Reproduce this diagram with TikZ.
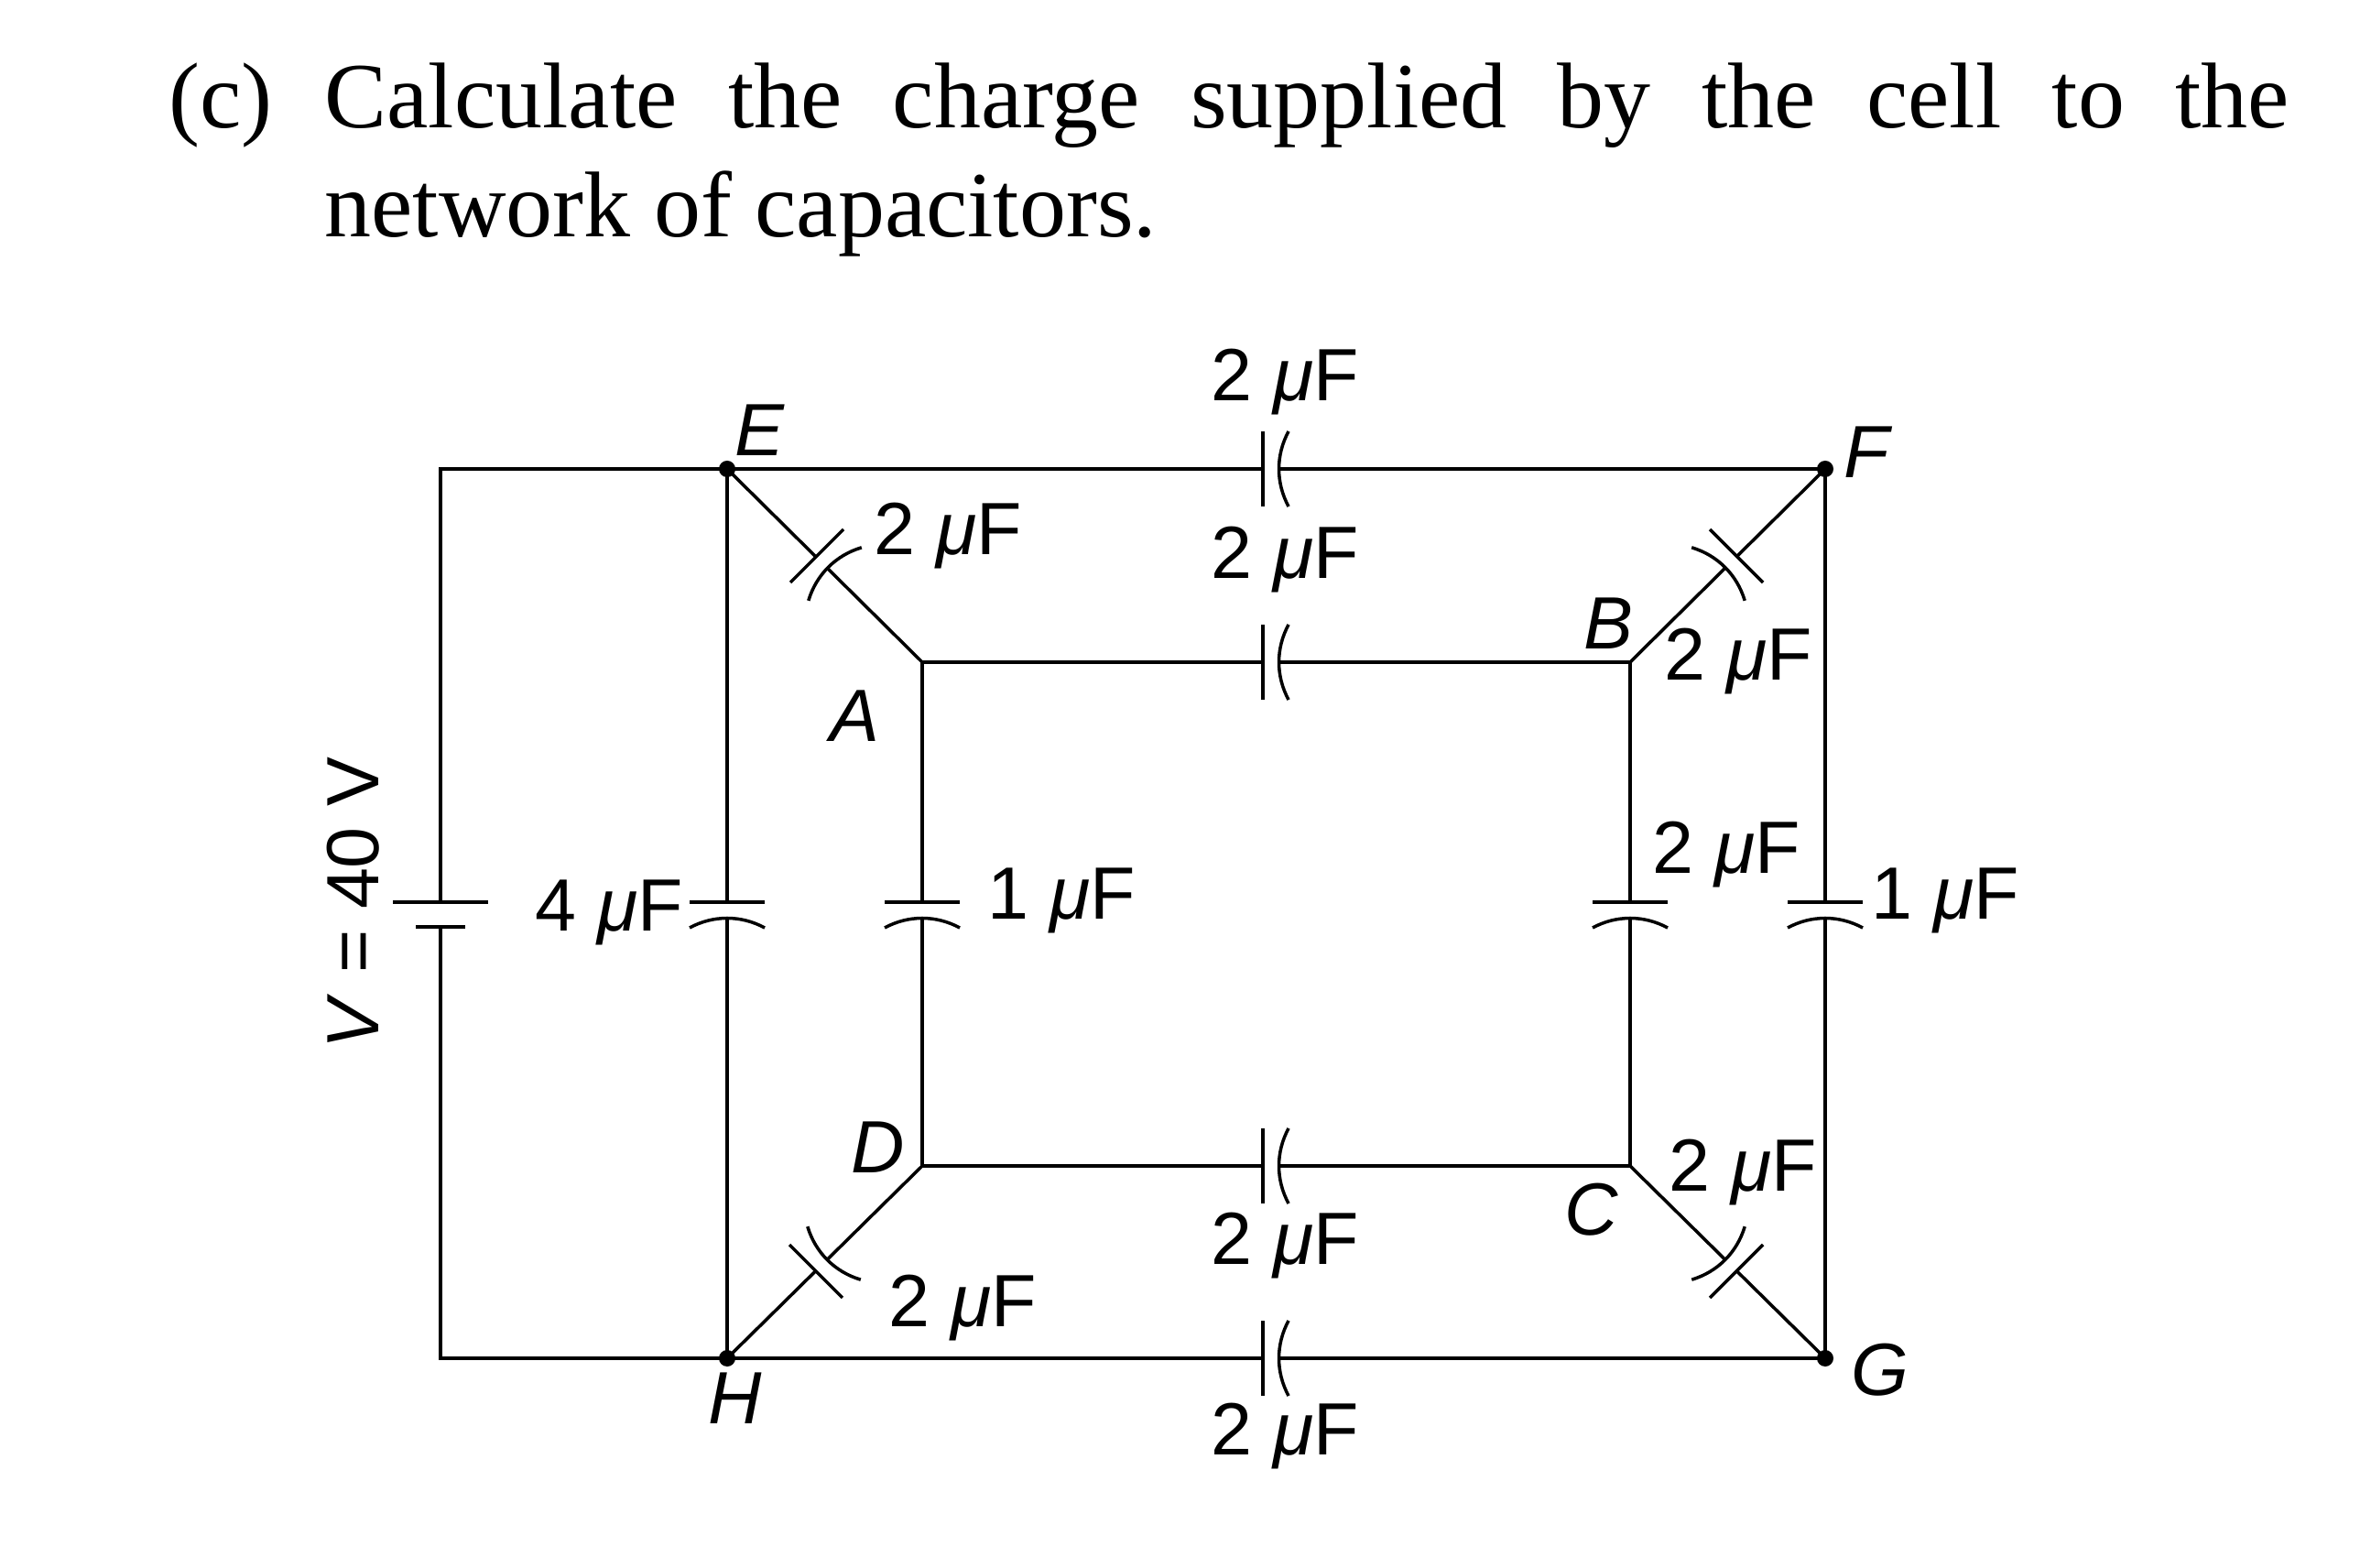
\documentclass[tikz,border=0pt]{standalone}
\usepackage{fontspec}
\setmainfont{Liberation Serif}
\newfontfamily\diagramfont{Liberation Sans}
\newcommand{\microfarad}{\textit{μ}F}
\usetikzlibrary{positioning}

\begin{document}
\begin{tikzpicture}[line width=1pt,
	junction/.style={circle,fill=black,inner sep=0pt,minimum size=0.18cm},
	question text/.style={anchor=base west,inner sep=0pt,font=\fontsize{29}{34}\selectfont},
	value label/.style={font=\diagramfont\fontsize{23}{26}\selectfont,anchor=base west,inner sep=0pt},
	point label/.style={font=\diagramfont\itshape\fontsize{23}{26}\selectfont,anchor=base west,inner sep=0pt},
	capacitor/.pic={
		\fill[white] (0,-0.08) rectangle (0.17,0.08);
		\draw (0,-0.41) -- (0,0.41);
		\draw (0.28,0.41) .. controls (0.14,0.15) and (0.14,-0.15) .. (0.28,-0.41);
	},
	cell/.pic={
		\fill[white] (0,-0.08) rectangle (0.27,0.08);
		\draw (0,-0.52) -- (0,0.52);
		\draw (0.27,-0.27) -- (0.27,0.27);
	}]
	
	\useasboundingbox (0,0) rectangle (25.89,17.11);
	
	\node[question text] (part) at (1.83,15.71) {(c)};
	\node[question text] (line one) at (3.53,15.71) {\makebox[21.45cm][s]{Calculate the charge supplied by the cell to the}};
	\node[question text] (line two) at (3.53,14.52) {network of capacitors.};
	
	\node[junction] (E) at (7.94,11.99) {};
	\node[junction] (F) at (19.93,11.99) {};
	\node[junction] (G) at (19.93,2.28) {};
	\node[junction] (H) at (7.94,2.28) {};
	\coordinate (A) at (10.07,9.88);
	\coordinate (B) at (17.80,9.88);
	\coordinate (C) at (17.80,4.38);
	\coordinate (D) at (10.07,4.38);
	\coordinate (top left) at (4.81,11.99);
	\coordinate (bottom left) at (4.81,2.28);
	
	\draw (E.center) -- (top left) -- (bottom left) -- (H.center);
	\draw (E.center) -- (F.center) -- (G.center) -- (H.center) -- cycle;
	\draw (A) -- (B) -- (C) -- (D) -- cycle;
	\draw (E.center) -- (A);
	\draw (F.center) -- (B);
	\draw (G.center) -- (C);
	\draw (H.center) -- (D);
	
	\pic (cap EF) at (13.79,11.99) {capacitor};
	\pic (cap AB) at (13.79,9.88) {capacitor};
	\pic (cap DC) at (13.79,4.38) {capacitor};
	\pic (cap HG) at (13.79,2.28) {capacitor};
	\pic[rotate=-90] (cap EH) at (7.94,7.26) {capacitor};
	\pic[rotate=-90] (cap AD) at (10.07,7.26) {capacitor};
	\pic[rotate=-90] (cap BC) at (17.80,7.26) {capacitor};
	\pic[rotate=-90] (cap FG) at (19.93,7.26) {capacitor};
	\pic[rotate=-45] (cap EA) at (8.92,11.04) {capacitor};
	\pic[rotate=225] (cap FB) at (18.96,11.04) {capacitor};
	\pic[rotate=135] (cap GC) at (18.96,3.23) {capacitor};
	\pic[rotate=45] (cap HD) at (8.91,3.23) {capacitor};
	\pic[rotate=-90] (battery) at (4.81,7.26) {cell};
	
	\node[value label] (label EF) at (13.21,12.73) {2 \microfarad};
	\node[value label] (label AB) at (13.21,10.79) {2 \microfarad};
	\node[value label] (label DC) at (13.21,3.31) {2 \microfarad};
	\node[value label] (label HG) at (13.21,1.23) {2 \microfarad};
	\node[value label] (label EA) at (9.53,11.05) {2 \microfarad};
	\node[value label] (label FB) at (18.16,9.68) {2 \microfarad};
	\node[value label] (label GC) at (18.21,4.11) {2 \microfarad};
	\node[value label] (label HD) at (9.69,2.63) {2 \microfarad};
	\node[value label] (label BC) at (18.03,7.57) {2 \microfarad};
	\node[value label] (label FG) at (20.42,7.07) {1 \microfarad};
	\node[value label] (label AD) at (10.77,7.07) {1 \microfarad};
	\node[value label] (label EH) at (5.83,6.94) {4 \microfarad};
	\node[value label,rotate=90] (label cell) at (4.13,5.64) {\textit{V} = 40 V};
	
	\node[point label] (name E) at (8.01,12.13) {E};
	\node[point label] (name F) at (20.12,11.89) {F};
	\node[point label] (name G) at (20.20,1.88) {G};
	\node[point label] (name H) at (7.72,1.57) {H};
	\node[point label] (name A) at (9.05,9.01) {A};
	\node[point label] (name B) at (17.28,10.02) {B};
	\node[point label] (name C) at (17.07,3.63) {C};
	\node[point label] (name D) at (9.28,4.31) {D};
\end{tikzpicture}
\end{document}
